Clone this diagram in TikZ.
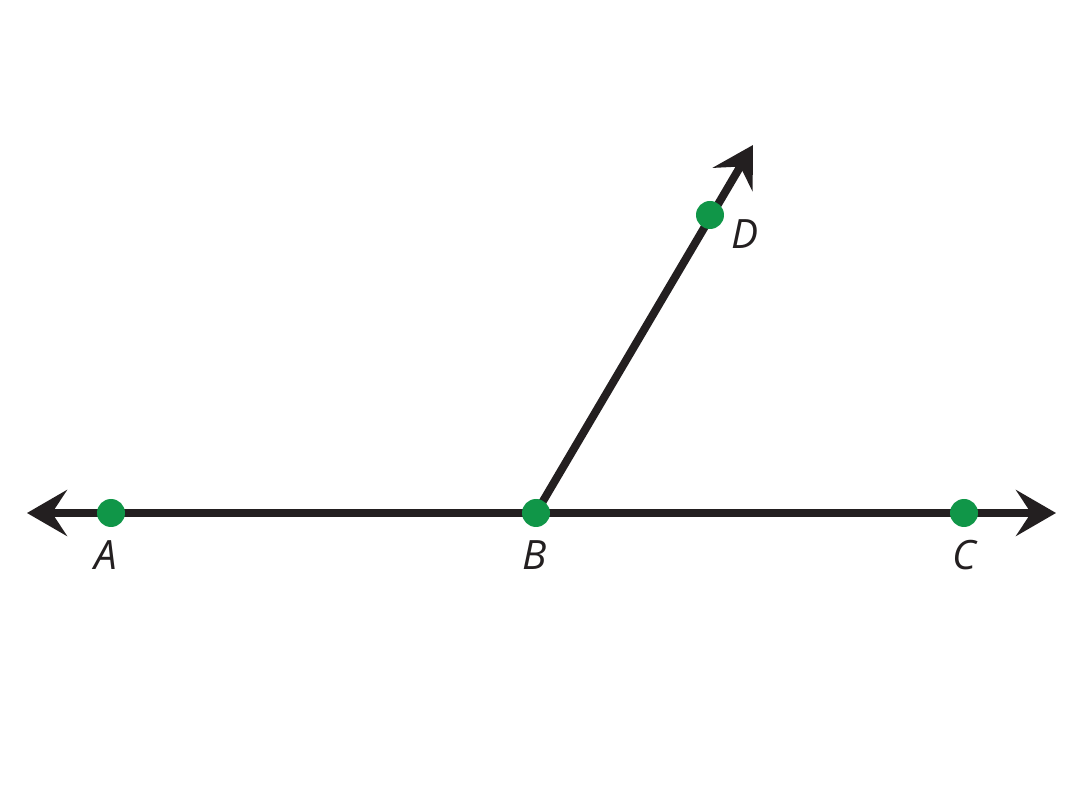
\documentclass[tikz,border=0pt]{standalone}
\usepackage{fontspec}
\setmainfont{Open Sans}
\usetikzlibrary{arrows.meta}
\definecolor{ink}{RGB}{35,31,32}
\definecolor{dotgreen}{RGB}{16,150,72}
\tikzset{
  ptdot/.style={circle,fill=dotgreen,inner sep=0pt,minimum size=0.56cm},
  ptlabel/.style={font=\fontsize{23}{27}\selectfont\itshape,text=ink,inner sep=0pt},
  rayline/.style={draw=ink,line width=0.16cm,
    -{Stealth[length=0.8cm,width=0.92cm,inset=0.3cm]}},
  lineboth/.style={draw=ink,line width=0.16cm,
    {Stealth[length=0.8cm,width=0.92cm,inset=0.3cm]}-{Stealth[length=0.8cm,width=0.92cm,inset=0.3cm]}}
}
\begin{document}
\begin{tikzpicture}[x=0.02cm,y=-0.02cm]
\useasboundingbox (0,0) rectangle (1080,810);
% end points of the line and the ray
    \coordinate (left) at (27,513);
    \coordinate (right) at (1056,513);
    \coordinate (base) at (536,513);
    \coordinate (top) at (753,145);

    \draw[lineboth] (left) -- (right);
    \draw[rayline] (base) -- (top);

% points
    \node[ptdot] (A) at (111,513) {};
    \node[ptdot] (B) at (base) {};
    \node[ptdot] (C) at (964,513) {};
    \node[ptdot] (D) at (710,215) {};

% labels
    \node[ptlabel] (labA) at (106,555) {A};
    \node[ptlabel] (labB) at (535,555) {B};
    \node[ptlabel] (labC) at (964,555) {C};
    \node[ptlabel] (labD) at (745,234) {D};
\end{tikzpicture}
\end{document}
